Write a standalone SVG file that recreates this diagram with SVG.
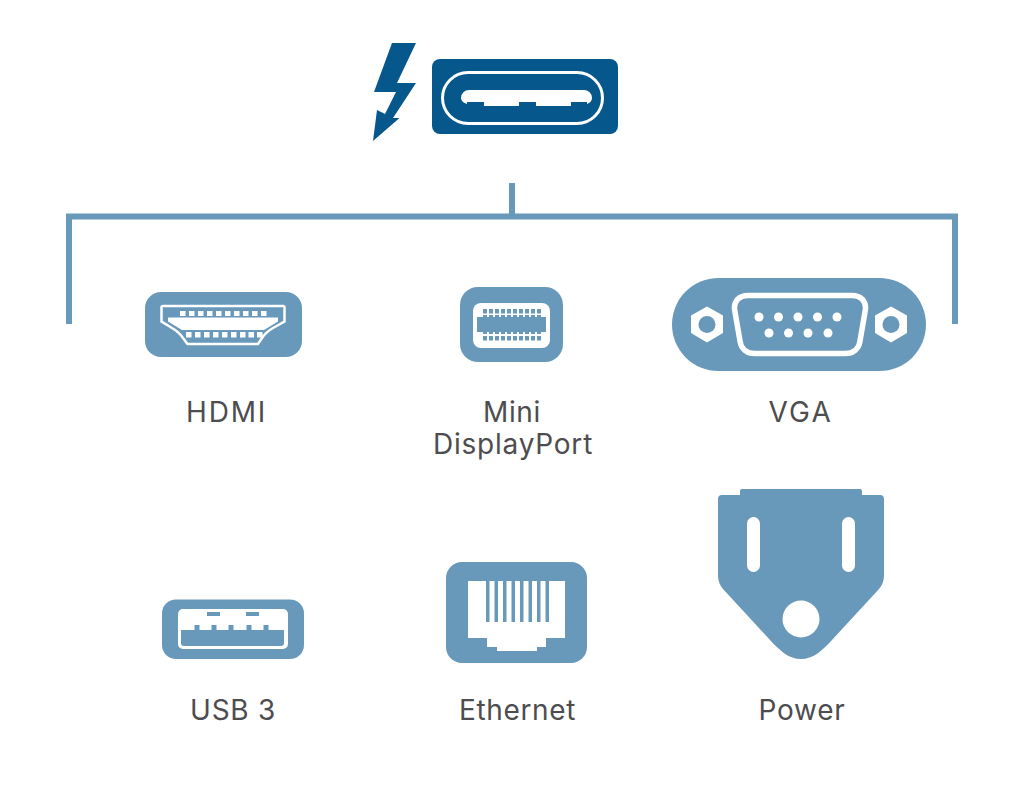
<svg xmlns="http://www.w3.org/2000/svg" width="1023" height="804" viewBox="0 0 1023 804">
<style>
.b{fill:#6999ba}.w{fill:#fff}.d{fill:#05578c}
.o{fill:none;stroke:#fff}
.t{font-family:"Inter","Liberation Sans",sans-serif;font-size:28px;fill:#4d4d4f;text-anchor:middle;letter-spacing:0.7px}
</style>
<rect width="1023" height="804" fill="#fff"/>
<g id="thunderbolt">
<path class="d" d="M392 43H416L397 83H416L393 118H399.500L373 141L377 110L385 114L396 92H374Z"/>
<rect class="d" x="432" y="59" width="186" height="75" rx="8"/>
<rect class="o" x="442.500" y="72.500" width="160" height="51" rx="25.500" stroke-width="3"/>
<path class="w" d="M469 90H584A8 8 0 0 1 592 98C592 101 590 103 587 104V102H571V106H536V102H519V106H484V102H467V104C464 103 461 101 461 98A8 8 0 0 1 469 90Z"/>
</g>
<g id="connectors" fill="none" stroke="#6999ba" stroke-width="6">
<path d="M69 324V216.500H955V324"/>
<path d="M512 183V216"/>
</g>
<g id="hdmi">
<rect class="b" x="145" y="292" width="157" height="65" rx="16"/>
<path class="o" stroke-width="2.500" d="M163 306H283Q284.500 306 284.500 307.500V321.500L273 328Q266 332 262 338L258 344H187.500L183 338Q179 332 172 328L161.500 321.500V307.500Q161.500 306 163 306Z"/>
<path class="w" d="M168 317.500H278V321.500L264 330H182L168 321.500Z"/>
<path class="w" d="M180 311h5.500v5h-5.500zM189 311h5.500v5h-5.500zM198 311h5.500v5h-5.500zM207 311h5.500v5h-5.500zM216 311h5.500v5h-5.500zM225 311h5.500v5h-5.500zM234 311h5.500v5h-5.500zM243 311h5.500v5h-5.500zM252 311h5.500v5h-5.500zM261 311h5.500v5h-5.500z"/>
<path class="w" d="M186 332h5.500v5.500h-5.500zM195 332h5.500v5.500h-5.500zM204 332h5.500v5.500h-5.500zM213 332h5.500v5.500h-5.500zM222 332h5.500v5.500h-5.500zM231 332h5.500v5.500h-5.500zM240 332h5.500v5.500h-5.500zM248.500 332h5.500v5.500h-5.500zM257 332h5.500v5.500h-5.500z"/>
</g>
<g id="mini-displayport">
<rect class="b" x="460" y="287" width="103" height="75" rx="18"/>
<rect class="w" x="473" y="303" width="77" height="45" rx="8"/>
<path class="b" d="M483 309h4v4.500h-4zM489 309h4v4.500h-4zM495 309h4v4.500h-4zM501 309h4v4.500h-4zM507 309h4v4.500h-4zM513 309h4v4.500h-4zM519 309h4v4.500h-4zM525 309h4v4.500h-4zM531 309h4v4.500h-4zM537 309h4v4.500h-4z"/>
<path class="b" d="M483 336h4v4.500h-4zM489 336h4v4.500h-4zM495 336h4v4.500h-4zM501 336h4v4.500h-4zM507 336h4v4.500h-4zM513 336h4v4.500h-4zM519 336h4v4.500h-4zM525 336h4v4.500h-4zM531 336h4v4.500h-4zM537 336h4v4.500h-4z"/>
<rect class="b" x="477" y="317" width="69" height="15"/>
<path class="b" d="M483 315h4v2h-4zM489 315h4v2h-4zM495 315h4v2h-4zM501 315h4v2h-4zM507 315h4v2h-4zM513 315h4v2h-4zM519 315h4v2h-4zM525 315h4v2h-4zM531 315h4v2h-4zM537 315h4v2h-4z"/>
<path class="b" d="M483 332h4v2h-4zM489 332h4v2h-4zM495 332h4v2h-4zM501 332h4v2h-4zM507 332h4v2h-4zM513 332h4v2h-4zM519 332h4v2h-4zM525 332h4v2h-4zM531 332h4v2h-4zM537 332h4v2h-4z"/>
</g>
<g id="vga">
<rect class="b" x="672" y="278" width="254" height="93" rx="46.500"/>
<path class="o" stroke-width="5.500" d="M748 295.500H852C861 295.500 866 301 865.500 309L860 341C859 349 853 353.500 845 353.500H755C747 353.500 741 349 740 341L734.500 309C734 301 739 295.500 748 295.500Z"/>
<g class="w">
<circle cx="759" cy="317" r="4.500"/><circle cx="778.500" cy="317" r="4.500"/><circle cx="798" cy="317" r="4.500"/><circle cx="817.500" cy="317" r="4.500"/><circle cx="837" cy="317" r="4.500"/>
<circle cx="769" cy="333" r="4.500"/><circle cx="788.500" cy="333" r="4.500"/><circle cx="808" cy="333" r="4.500"/><circle cx="828" cy="333" r="4.500"/>
</g>
<path class="w" d="M707 306.500L723 315.500V333L707 342.500L691 333V315.500Z"/>
<circle class="b" cx="707" cy="324.500" r="8.500"/>
<path class="w" d="M891 306.500L907 315.500V333L891 342.500L875 333V315.500Z"/>
<circle class="b" cx="891" cy="324.500" r="8.500"/>
</g>
<g id="usb3">
<rect class="b" x="162" y="599.500" width="142" height="59.500" rx="14"/>
<rect class="w" x="178" y="609" width="110" height="40" rx="5"/>
<path class="b" d="M181 630H194.500V625H199.500V630H211.500V625H216.500V630H228.500V625H233.500V630H246.500V625H251.500V630H263.500V625H268.500V630H284V643Q284 646 281 646H184Q181 646 181 643Z"/>
<rect class="b" x="207" y="612" width="13" height="4"/>
<rect class="b" x="246" y="612" width="13" height="4"/>
</g>
<g id="ethernet">
<rect class="b" x="446" y="562" width="141" height="101" rx="16"/>
<path class="w" d="M468 581H565V638H546V647H537V651H497V647H487V638H468Z"/>
<path class="b" d="M486 581h3.500v41h-3.500zM494.500 581h3.500v41h-3.500zM503 581h3.500v41h-3.500zM511.500 581h3.500v41h-3.500zM520 581h3.500v41h-3.500zM528.500 581h3.500v41h-3.500zM537 581h3.500v41h-3.500zM545.500 581h3.500v41h-3.500z"/>
</g>
<g id="power">
<path class="b" d="M742 489H860Q862 489 862 491V495H880Q884 495 884 499V576Q884 583 879 589L832 640C822 651 813 659 801 659C789 659 780 651 770 640L723 589Q718 583 718 576V499Q718 495 722 495H740V491Q740 489 742 489Z"/>
<rect class="w" x="747" y="517" width="13" height="55" rx="6.500"/>
<rect class="w" x="842" y="517" width="13" height="55" rx="6.500"/>
<circle class="w" cx="801" cy="619" r="18.500"/>
</g>
<g id="labels">
<text class="t" x="226" y="421.500" textLength="80" lengthAdjust="spacing">HDMI</text>
<text class="t" x="512" y="421.500">Mini</text>
<text class="t" x="513" y="453.500" textLength="160" lengthAdjust="spacing">DisplayPort</text>
<text class="t" x="800" y="421.500" textLength="63" lengthAdjust="spacing">VGA</text>
<text class="t" x="233" y="719.500">USB 3</text>
<text class="t" x="517.500" y="719.500" textLength="117" lengthAdjust="spacing">Ethernet</text>
<text class="t" x="802" y="719.500" textLength="87" lengthAdjust="spacing">Power</text>
</g>
</svg>
